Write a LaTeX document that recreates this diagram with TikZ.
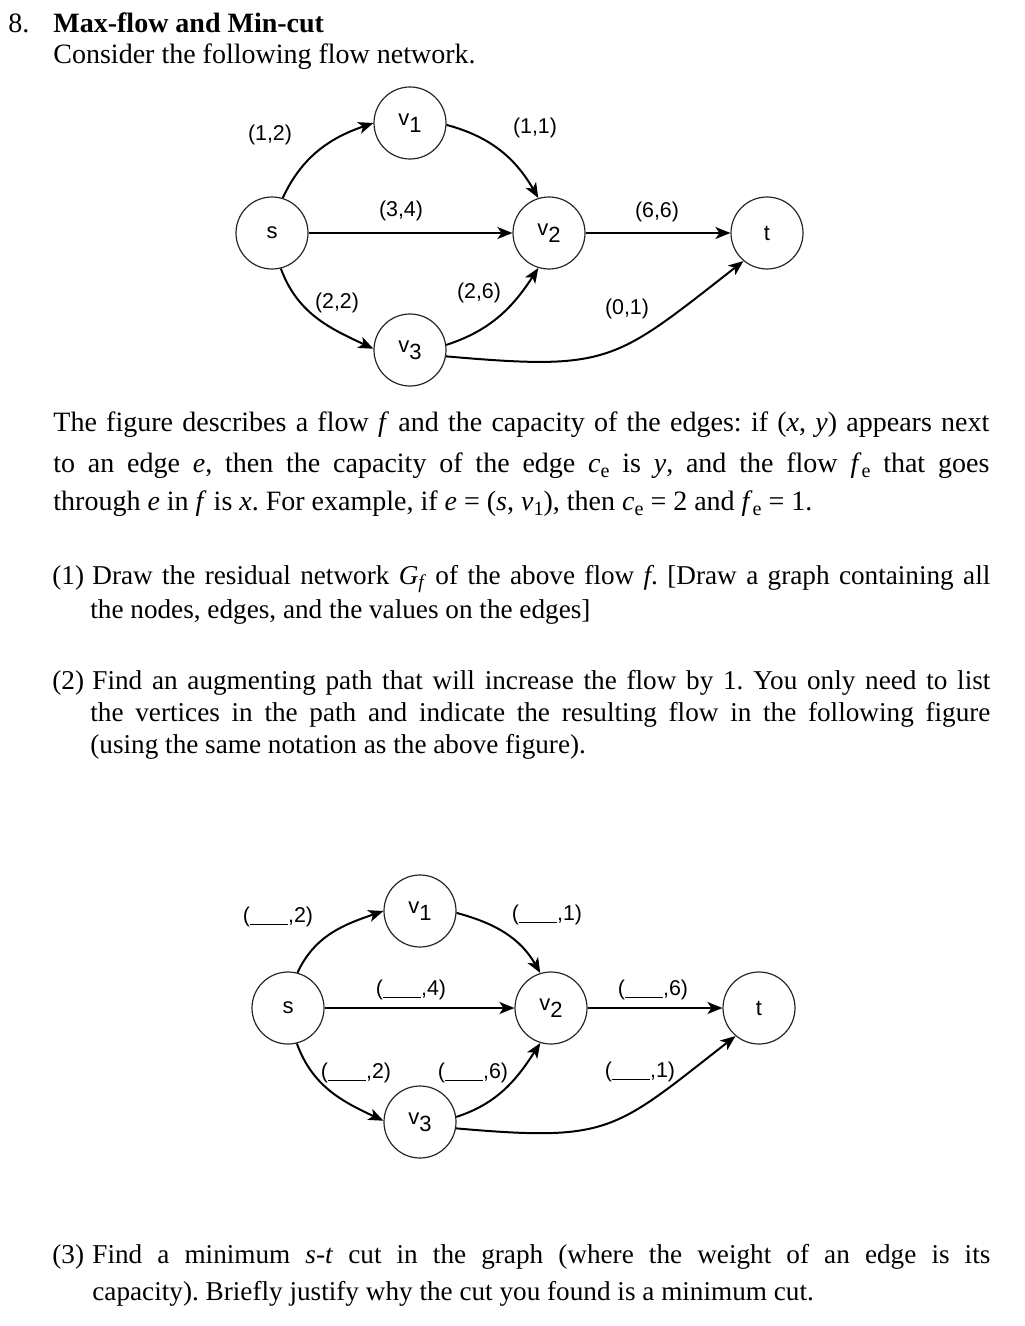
\documentclass[tikz,border=0pt]{standalone}
\usepackage{graphicx,xcolor}
\usepackage{fontspec}
\setmainfont{Liberation Serif}
\setsansfont{Liberation Sans}
\usetikzlibrary{arrows.meta}

\newcommand{\lowsub}[1]{\raisebox{-0.4ex}{\scalebox{0.72}{#1}}}
\newcommand{\vsub}[1]{\raisebox{-0.6ex}{#1}}
\newcommand{\fillin}{\rule[-1.2pt]{19pt}{0.5pt}}

\tikzset{
  vertex/.style={draw=black!85, circle, line width=0.6pt, minimum size=36pt, inner sep=0pt,
    font=\sffamily\fontsize{11}{13}\selectfont},
  flowedge/.style={line width=1pt, -{Stealth[length=7.5pt,width=6pt,inset=2pt]}},
  elabel/.style={inner sep=0pt, font=\sffamily\fontsize{10.7}{12}\selectfont},
  txt/.style={anchor=base west, inner sep=0pt, font=\fontsize{14}{17}\selectfont},
  qtxt/.style={anchor=base west, inner sep=0pt, font=\fontsize{13.6}{16}\selectfont}
}

\begin{document}
\frenchspacing
\begin{tikzpicture}[x=0.5pt,y=0.5pt]
        \useasboundingbox (0,0) rectangle (1024,-1326);

        % Heading
        \node[txt] (num) at (8,-33) {8.};
        \node[txt] (head) at (53,-33) {\textbf{Max-flow and Min-cut}};
        \node[txt] (intro) at (53,-64) {Consider the following flow network.};

        % First network
        \node[vertex] (s) at (272,-233) {s};
        \node[vertex] (v1) at (410,-123) {v\vsub{1}};
        \node[vertex] (v2) at (549,-233) {v\vsub{2}};
        \node[vertex] (t) at (767,-233) {t};
        \node[vertex] (v3) at (410,-350) {v\vsub{3}};

        \draw[flowedge] (s.73) to[out=65,in=199] (v1.180);
        \draw[flowedge] (v1.-3) to[out=-15,in=120] (v2.107);
        \draw[flowedge] (s) -- (v2);
        \draw[flowedge] (v2) -- (t);
        \draw[flowedge] (s.-76) to[out=-70,in=155] (v3.178);
        \draw[flowedge] (v3.8) to[out=18,in=-123] (v2.-107);
        \draw[flowedge] (v3.-10) to[out=-5,in=-142,looseness=1.35] (t.-130);

        \node[elabel] (e1) at (270,-135) {(1,2)};
        \node[elabel] (e2) at (535,-128) {(1,1)};
        \node[elabel] (e3) at (401,-211) {(3,4)};
        \node[elabel] (e4) at (657,-212) {(6,6)};
        \node[elabel] (e5) at (337,-303) {(2,2)};
        \node[elabel] (e6) at (479,-293) {(2,6)};
        \node[elabel] (e7) at (627,-309) {(0,1)};

        % Explanation
        \node[txt] (p1) at (53,-431) {\makebox[468pt][s]{The figure describes a flow \textit{f} and the capacity of the edges: if (\textit{x}, \textit{y}) appears next}};
        \node[txt] (p2) at (53,-472) {\makebox[468pt][s]{to an edge \textit{e}, then the capacity of the edge \textit{c}\lowsub{e} is \textit{y}, and the flow \textit{f}\lowsub{e} that goes}};
        \node[txt] (p3) at (53,-510) {through \textit{e} in \textit{f} is \textit{x}. For example, if \textit{e} = (\textit{s}, \textit{v}\lowsub{1}), then \textit{c}\lowsub{e} = 2 and \textit{f}\lowsub{e} = 1.};

        % Question 1
        \node[qtxt] (q1) at (52,-584) {(1)};
        \node[qtxt] (q1a) at (92,-584) {\makebox[449pt][s]{Draw the residual network \textit{G}\lowsub{\textit{f}} of the above flow \textit{f}. [Draw a graph containing all}};
        \node[qtxt] (q1b) at (90,-618) {the nodes, edges, and the values on the edges]};

        % Question 2
        \node[qtxt] (q2) at (52,-689) {(2)};
        \node[qtxt] (q2a) at (92,-689) {\makebox[449pt][s]{Find an augmenting path that will increase the flow by 1. You only need to list}};
        \node[qtxt] (q2b) at (90,-721) {\makebox[450pt][s]{the vertices in the path and indicate the resulting flow in the following figure}};
        \node[qtxt] (q2c) at (90,-753) {(using the same notation as the above figure).};

        % Second network
        \node[vertex] (S) at (288,-1008) {s};
        \node[vertex] (V1) at (420,-911) {v\vsub{1}};
        \node[vertex] (V2) at (551,-1008) {v\vsub{2}};
        \node[vertex] (T) at (759,-1008) {t};
        \node[vertex] (V3) at (420,-1122) {v\vsub{3}};

        \draw[flowedge] (S.75) to[out=65,in=199] (V1.180);
        \draw[flowedge] (V1.-3) to[out=-15,in=120] (V2.107);
        \draw[flowedge] (S) -- (V2);
        \draw[flowedge] (V2) -- (T);
        \draw[flowedge] (S.-76) to[out=-70,in=155] (V3.178);
        \draw[flowedge] (V3.8) to[out=18,in=-123] (V2.-107);
        \draw[flowedge] (V3.-10) to[out=-5,in=-142,looseness=1.35] (T.-130);

        \node[elabel] (E1) at (278,-917) {(\fillin,2)};
        \node[elabel] (E2) at (547,-915) {(\fillin,1)};
        \node[elabel] (E3) at (411,-990) {(\fillin,4)};
        \node[elabel] (E4) at (653,-990) {(\fillin,6)};
        \node[elabel] (E5) at (356,-1073) {(\fillin,2)};
        \node[elabel] (E6) at (473,-1073) {(\fillin,6)};
        \node[elabel] (E7) at (640,-1072) {(\fillin,1)};

        % Question 3
        \node[qtxt] (q3) at (52,-1263) {(3)};
        \node[qtxt] (q3a) at (92,-1263) {\makebox[449pt][s]{Find a minimum \textit{s}-\textit{t} cut in the graph (where the weight of an edge is its}};
        \node[qtxt] (q3b) at (92,-1300) {capacity). Briefly justify why the cut you found is a minimum cut.};
\end{tikzpicture}
\end{document}
